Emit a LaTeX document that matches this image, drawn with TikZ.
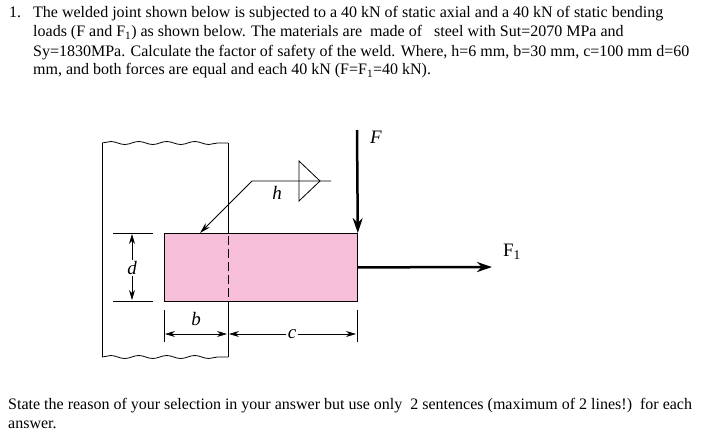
\documentclass[tikz,border=0pt]{standalone}
\usepackage{fontspec}
\setmainfont{Liberation Serif}
\usetikzlibrary{arrows.meta,decorations.pathmorphing}
\begin{document}
\begin{tikzpicture}[x=1pt,y=-1pt,
  txt/.style={anchor=base west,inner sep=0pt,font=\fontsize{16}{18}\selectfont},
  lbl/.style={inner sep=0pt,font=\fontsize{19}{21}\selectfont\itshape},
  thin/.style={line width=0.8pt},
  tip/.style={-{Stealth[length=10pt,width=6pt]}},
  wavy/.style={thin,decorate,decoration={snake,amplitude=1.5pt,segment length=28pt}}]
\useasboundingbox (0,0) rectangle (706,434);
\node[txt] (n1) at (9,17.5) {1.};
\node[txt] (t1) at (33,17.5) {The welded joint shown below is subjected to a 40 kN of static axial and a 40 kN of static bending};
\node[txt] (t2) at (33,36.5) {loads (F and F\textsubscript{1}) as shown below. The materials are\ \ made of\ \ \ steel with Sut=2070 MPa and};
\node[txt] (t3) at (33,56) {Sy=1830MPa. Calculate the factor of safety of the weld. Where, h=6 mm, b=30 mm, c=100 mm d=60};
\node[txt] (t4) at (33,74.5) {mm, and both forces are equal and each 40 kN (F=F\textsubscript{1}=40 kN).};
\node[txt] (t5) at (8,409) {State the reason of your selection in your answer but use only\ \ 2 sentences (maximum of 2 lines!)\ \ for each};
\node[txt] (t6) at (8,428) {answer.};
% column
\draw[thin] (102,357) -- (102,143);
\draw[thin] (228,357) -- (228,301);
\draw[thin] (228,233) -- (228,143);
\draw[wavy] (102,143) -- (228,143);
\draw[wavy] (102,357) -- (228,357);
% bar
\node[draw,thin,fill={rgb,255:red,246;green,190;blue,216},minimum width=193pt,minimum height=68pt,inner sep=0pt,anchor=north west] (bar) at (164,233) {};
\draw[thin,dash pattern=on 9pt off 4pt] (228,236) -- (228,301);
% weld symbol
\coordinate (w0) at (200,233);
\coordinate (w1) at (252,181);
\coordinate (w2) at (331,181);
\draw[thin,-{Stealth[length=11pt,width=6pt]}] (w2) -- (w1) -- (w0);
\draw[thin] (299,161) -- (320,181) -- (299,201) -- cycle;
\node[lbl] (h) at (277,193) {h};
% F
\coordinate (F0) at (357,130);
\draw[line width=2.5pt,-{Stealth[length=15pt,width=10pt]}] (F0) -- (bar.north east);
\node[lbl] (F) at (376,137) {F};
% F1
\coordinate (F1e) at (492,267);
\draw[line width=2.5pt,-{Stealth[length=15pt,width=10pt]}] (bar.east) -- (F1e);
\node[inner sep=0pt,font=\fontsize{19}{21}\selectfont] (F1) at (512,252) {F\textsubscript{1}};
% d dim
\coordinate (d1) at (113,233); \coordinate (d2) at (153,233);
\coordinate (d3) at (113,301); \coordinate (d4) at (153,301);
\draw[thin] (d1) -- (d2) (d3) -- (d4);
\node[lbl,fill=white,inner sep=1pt] (d) at (132,268) {d};
\draw[thin,tip] (d.north) -- (132,234);
\draw[thin,tip] (d.south) -- (132,300);
% b,c dim
\draw[thin] (164,310) -- (164,342) (357,310) -- (357,342);
\node[lbl] (b) at (196,319) {b};
\draw[thin,{Stealth[length=10pt,width=6pt]}-{Stealth[length=10pt,width=6pt]}] (165,334) -- (227,334);
\node[lbl,fill=white,inner sep=2pt] (c) at (292,334) {c};
\draw[thin,tip] (c.west) -- (229,334);
\draw[thin,tip] (c.east) -- (356,334);
\end{tikzpicture}
\end{document}
